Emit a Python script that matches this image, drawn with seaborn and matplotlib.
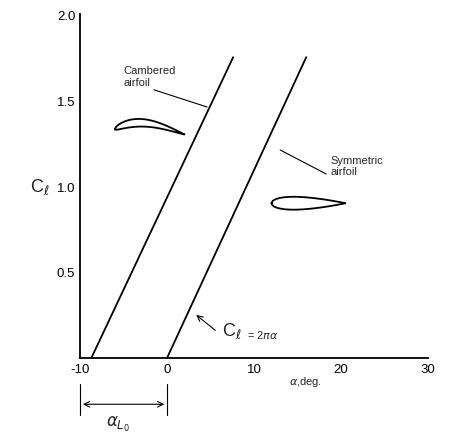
import numpy as np
import matplotlib.pyplot as plt
import seaborn as sns
import pandas as pd

# lift curves (alpha in deg, Cl)
alpha_sym = [0.0, 16.0]
cl_sym = [0.0, 1.75]
alpha_camb = [-8.7, 7.6]
cl_camb = [0.0, 1.75]

x_ticks = [-10, 0, 10, 20, 30]
y_ticks = [0.5, 1.0, 1.5, 2.0]

sns.set_style("white")
plt.rcParams['font.family'] = ['Liberation Sans', 'DejaVu Sans']
plt.rcParams['axes.unicode_minus'] = False

fig = plt.figure(figsize=(4.74, 4.35), dpi=100)
ax = fig.add_axes([0.169, 0.175, 0.734, 0.79])

df = pd.concat([
    pd.DataFrame({"alpha": alpha_sym, "cl": cl_sym, "airfoil": "sym"}),
    pd.DataFrame({"alpha": alpha_camb, "cl": cl_camb, "airfoil": "camb"}),
])
sns.lineplot(data=df, x="alpha", y="cl", units="airfoil", estimator=None,
             color="black", lw=1.3, ax=ax, legend=False)

ax.set_xlim(-10, 30)
ax.set_ylim(0, 2.0)
ax.set_xticks(x_ticks)
ax.set_yticks(y_ticks)
ax.tick_params(direction="in", length=5, width=1, labelsize=9.5, colors="black")
for s in ["top", "right"]:
    ax.spines[s].set_visible(False)
for s in ["left", "bottom"]:
    ax.spines[s].set_linewidth(1.3)
    ax.spines[s].set_color("black")
ax.set_xlabel("")
ax.set_ylabel("")

# airfoil glyphs (NACA thickness shape)
t = np.linspace(0, 1, 60)
yt = 5 * 0.15 * (0.2969 * np.sqrt(t) - 0.126 * t - 0.3516 * t**2 + 0.2843 * t**3 - 0.1036 * t**4)
# symmetric
xs, sy = 12.0 + 8.5 * t, 0.9
ax.plot(np.r_[xs, xs[::-1]], np.r_[sy + yt * 0.5, (sy - yt * 0.5)[::-1]], color="black", lw=1.3)
# cambered
camber = 0.05 * np.sin(np.pi * t ** 0.8)
xc = -6.0 + 8.0 * t
yc = 1.33 + camber - 0.03 * t
th = yt * 0.3
ax.plot(np.r_[xc, xc[::-1]], np.r_[yc + th, (yc - th)[::-1]], color="black", lw=1.3)

# labels
ax.text(-5.0, 1.64, "Cambered\nairfoil", fontsize=8, va="center")
ax.plot([-1.5, 4.6], [1.56, 1.46], color="black", lw=0.8)
ax.text(18.8, 1.12, "Symmetric\nairfoil", fontsize=8, va="center")
ax.plot([13.0, 18.3], [1.21, 1.07], color="black", lw=0.8)
ax.annotate("", xy=(3.1, 0.26), xytext=(5.8, 0.15),
            arrowprops=dict(arrowstyle="->", lw=0.8, color="black"))
ax.text(6.3, 0.16, r"C$_\ell$", fontsize=13, va="center")
ax.text(9.2, 0.14, r"= 2$\pi\alpha$", fontsize=8, va="center")

fig.text(0.085, 0.57, r"C$_\ell$", fontsize=13, va="center", ha="center")
fig.text(0.645, 0.115, r"$\alpha$,deg.", fontsize=8, ha="center")

# alpha_L0 dimension
ax.annotate("", xy=(-10, -0.27), xytext=(0, -0.27), annotation_clip=False,
            arrowprops=dict(arrowstyle="<->", lw=0.8, color="black"))
for xv in [-10, 0]:
    ax.plot([xv, xv], [-0.15, -0.33], color="black", lw=0.8, clip_on=False)
ax.text(-5.6, -0.38, r"$\alpha_{L_0}$", fontsize=12, va="center", ha="center")

fig.savefig("out.png", dpi=100)
